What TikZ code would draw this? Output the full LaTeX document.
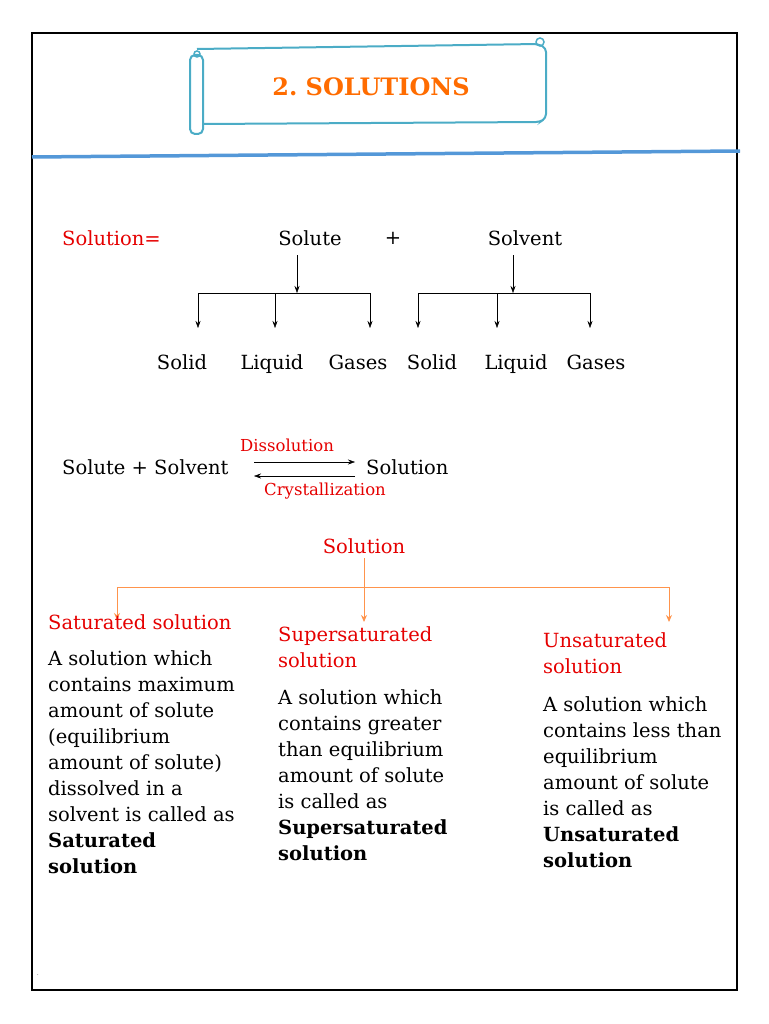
\documentclass[tikz,border=0pt]{standalone}
\usepackage{fontspec}
\setmainfont{DejaVu Serif}
\usetikzlibrary{arrows.meta}
\begin{document}
\begin{tikzpicture}[x=1pt,y=-1pt,
  txt/.style={font=\fontsize{19.5}{26}\selectfont,inner sep=0pt},
  red/.style={txt,text=red!90!black},
  small/.style={font=\fontsize{16.5}{26}\selectfont,inner sep=0pt,text=red!90!black},
  blk/.style={-{Stealth[length=7pt,width=5pt]},thin},
  org/.style={-{Stealth[length=7pt,width=6pt]},draw=orange!80!red!70!white,line width=0.9pt},
  bodyt/.style={txt,anchor=north west,align=left}]
\useasboundingbox (0,0) rectangle (768,1024);
\draw[line width=1.2pt] (32,33) rectangle (737,990);
\draw[line width=3.5pt,draw=cyan!60!blue!70!white] (32,157) -- (740,151);
% scroll
\definecolor{scr}{RGB}{75,172,198}
\draw[scr,line width=2pt,rounded corners=4pt] (197,49) -- (538,44) -- (546,48) -- (546,118) -- (540,122) -- (203,124);
\draw[scr,line width=2pt,rounded corners=5pt] (190,55) rectangle (203,134);
\draw[scr,line width=1.5pt] (197,54) circle (3);
\draw[scr,line width=1.5pt] (540,42) circle (4);
\node[font=\bfseries\fontsize{24}{30}\selectfont,text=orange!85!red] (title) at (371,87) {2.~SOLUTIONS};
% solution composition
\node[red,anchor=west] (sol) at (62,238) {Solution=};
\node[txt] (solute) at (310,238) {Solute};
\node[txt] (plus) at (393,238) {+};
\node[txt] (solvent) at (525,238) {Solvent};
\coordinate (a1) at (297,293); \coordinate (a2) at (513,293);
\draw[blk] (297,255) -- (a1);
\draw[blk] (513,255) -- (a2);
\draw[thin] (198,293) -- (370,293);
\draw[thin] (418,293) -- (590,293);
\foreach \x in {198,275,370,418,497,590} \draw[blk] (\x,293) -- (\x,328);
\foreach \x/\t/\n in {182/Solid/s1,272/Liquid/s2,358/Gases/s3,432/Solid/s4,516/Liquid/s5,596/Gases/s6}
  \node[txt,anchor=base] (\n) at (\x,369) {\t};
% equilibrium
\node[txt,anchor=west] (ss) at (62,467) {Solute + Solvent};
\node[txt,anchor=west] (res) at (366,467) {Solution};
\coordinate (e1) at (254,462); \coordinate (e2) at (355,462);
\coordinate (e3) at (355,476); \coordinate (e4) at (254,476);
\draw[blk] (e1) -- (e2);
\draw[blk] (e3) -- (e4);
\node[small] (dis) at (287,445) {Dissolution};
\node[small] (cry) at (325,491) {Crystallization};
% types
\node[red] (top) at (364,546) {Solution};
\coordinate (j) at (364,587);
\draw[draw=orange!80!red!70!white,line width=0.9pt] (364,558) -- (j) (117,587) -- (669,587);
\draw[org] (117,587) -- (117,620);
\draw[org] (j) -- (364,622);
\draw[org] (669,587) -- (669,622);
\node[red,anchor=west] (t1) at (48,622) {Saturated solution};
\node[red,anchor=north west,align=left] (t2) at (278,626) {Supersaturated\\solution};
\node[red,anchor=north west,align=left] (t3) at (543,632) {Unsaturated\\solution};
\node[bodyt] (b1) at (48,650) {A solution which\\contains maximum\\amount of solute\\(equilibrium\\amount of solute)\\dissolved in a\\solvent is called as\\\textbf{Saturated}\\\textbf{solution}};
\node[bodyt] (b2) at (278,689) {A solution which\\contains greater\\than equilibrium\\amount of solute\\is called as\\\textbf{Supersaturated}\\\textbf{solution}};
\node[bodyt] (b3) at (543,696) {A solution which\\contains less than\\equilibrium\\amount of solute\\is called as\\\textbf{Unsaturated}\\\textbf{solution}};
\node[font=\tiny,inner sep=0pt] (dot) at (38,975) {.};
\end{tikzpicture}
\end{document}
